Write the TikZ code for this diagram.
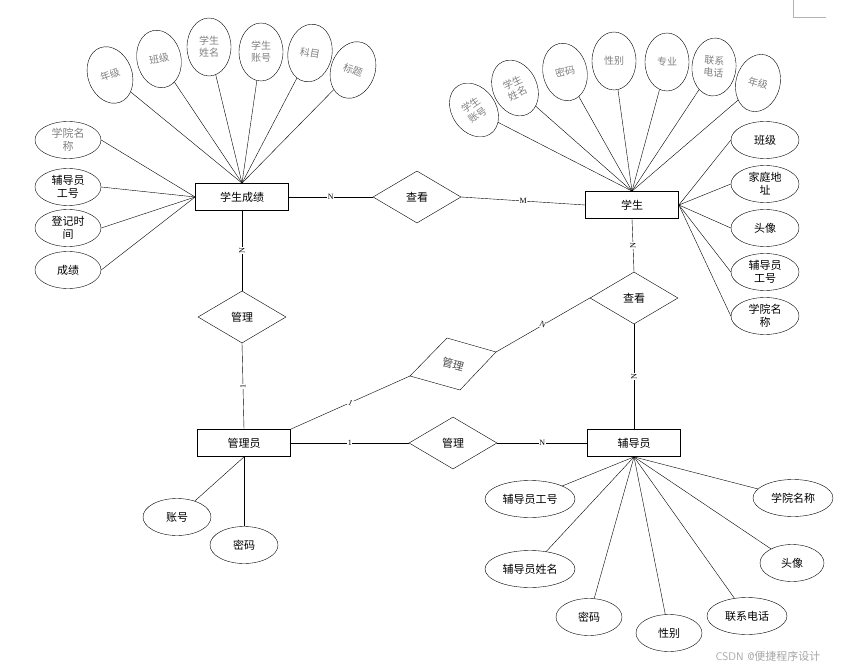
\documentclass[tikz,border=0pt]{standalone}
\usepackage{fontspec}
\setmainfont{Liberation Serif}
\newfontfamily\cjk{Noto Sans CJK SC}
\usetikzlibrary{shapes.geometric}
\begin{document}
\begin{tikzpicture}[x=1pt,y=-1pt,
  every node/.style={font=\cjk\fontsize{11}{13}\selectfont},
  ent/.style={draw,thick,minimum width=93pt,minimum height=27pt,inner sep=0},
  att/.style={draw,ellipse,minimum width=68pt,minimum height=37pt,inner sep=0,align=center},
  tatt/.style={draw,ellipse,minimum width=44pt,minimum height=58pt,inner sep=0,align=center,text=gray,font=\cjk\fontsize{10}{12}\selectfont},
  rel/.style={draw,diamond,aspect=1.7,minimum width=88pt,minimum height=52pt,inner sep=0},
  card/.style={fill=white,inner sep=0.5pt,font=\fontsize{8}{9}\selectfont}]
\useasboundingbox (0,0) rectangle (857,671);
\draw[gray!60] (793,0) -- (793,17) -- (826,17);
% entities
\node[ent] (cj) at (242,197) {学生成绩};
\node[ent] (xs) at (632,205) {学生};
\node[ent] (gly) at (244,443) {管理员};
\node[ent] (fdy) at (634,443) {辅导员};
% relations
\node[rel] (ck1) at (417,197) {查看};
\node[rel] (ck2) at (634,298) {查看};
\node[rel] (gl1) at (242,317) {管理};
\node[rel] (gl3) at (453,443) {管理};
\coordinate (g2l) at (410,376);
\coordinate (g2t) at (447,338);
\coordinate (g2r) at (496,352);
\coordinate (g2b) at (460,390);
\draw (g2l) -- (g2t) -- (g2r) -- (g2b) -- cycle;
\node[rotate=-15,text=gray!60!black] (gl2) at (453,364) {管理};
% left-top attributes
\foreach \n/\x/\y/\r/\t in {a1/110/75/20/年级, a2/159/59/12/班级, a3/209/47/0/学生\\姓名, a4/261/52/0/学生\\账号, a5/310/53/-10/科目, a6/353/70/-20/标题}
  {\node[tatt,rotate=\r] (\n) at (\x,\y) {\t}; \draw (\n) -- (cj.north);}
\foreach \n/\y/\t/\c in {b1/140/学院名\\称/gray, b2/187/辅导员\\工号/black, b3/228/登记时\\间/black, b4/270/成绩/black}
  {\node[att,minimum width=66pt,text=\c] (\n) at (68,\y) {\t}; \draw (\n.east) -- (cj.west);}
% student attributes
\foreach \n/\x/\y/\r/\t in {c1/474/110/35/学生\\账号, c2/515/88/25/学生\\姓名, c3/565/72/12/密码, c4/614/61/0/性别, c5/667/62/0/专业, c6/714/67/-5/联系\\电话, c7/758/83/-15/年级}
  {\node[tatt,rotate=\r] (\n) at (\x,\y) {\t}; \draw (\n) -- (xs.north);}
\foreach \n/\y/\t in {d1/140/班级, d2/184/家庭地\\址, d3/228/头像, d4/272/辅导员\\工号, d5/316/学院名\\称}
  {\node[att] (\n) at (765,\y) {\t}; \draw (\n.west) -- (xs.east);}
% admin attributes
\node[att] (e1) at (177,517) {账号};
\node[att] (e2) at (244,545) {密码};
\draw (e1) -- (gly.south); \draw (e2) -- (gly.south);
% counsellor attributes
\foreach \n/\x/\y/\w/\t in {f1/530/499/90/辅导员工号, f2/530/569/90/辅导员姓名, f3/589/617/66/密码, f4/669/633/66/性别, f5/747/616/80/联系电话, f6/792/563/64/头像, f7/793/498/80/学院名称}
  {\node[att,minimum width=\w pt] (\n) at (\x,\y) {\t}; \draw (\n) -- (fdy.south);}
% relationship lines
\draw (cj.east) -- node[card]{N} (ck1.west);
\draw (ck1.east) -- node[card]{M} (xs.west);
\draw (xs.south) -- node[card,rotate=90]{N} (ck2.north);
\draw (ck2.south) -- node[card,rotate=90]{N} (fdy.north);
\draw (cj.south) -- node[card,rotate=90]{N} (gl1.north);
\draw (gl1.south) -- node[card,rotate=90]{1} (gly.north);
\draw (gly.north east) -- node[card,rotate=-25]{1} (g2l);
\draw (g2r) -- node[card,rotate=-28]{N} (ck2.west);
\draw (gly.east) -- node[card]{1} (gl3.west);
\draw (gl3.east) -- node[card]{N} (fdy.west);
\node[text=gray!70,font=\fontsize{11}{13}\selectfont\sffamily] (wm) at (768,656) {CSDN @{\cjk 便捷程序设计}};
\end{tikzpicture}
\end{document}
